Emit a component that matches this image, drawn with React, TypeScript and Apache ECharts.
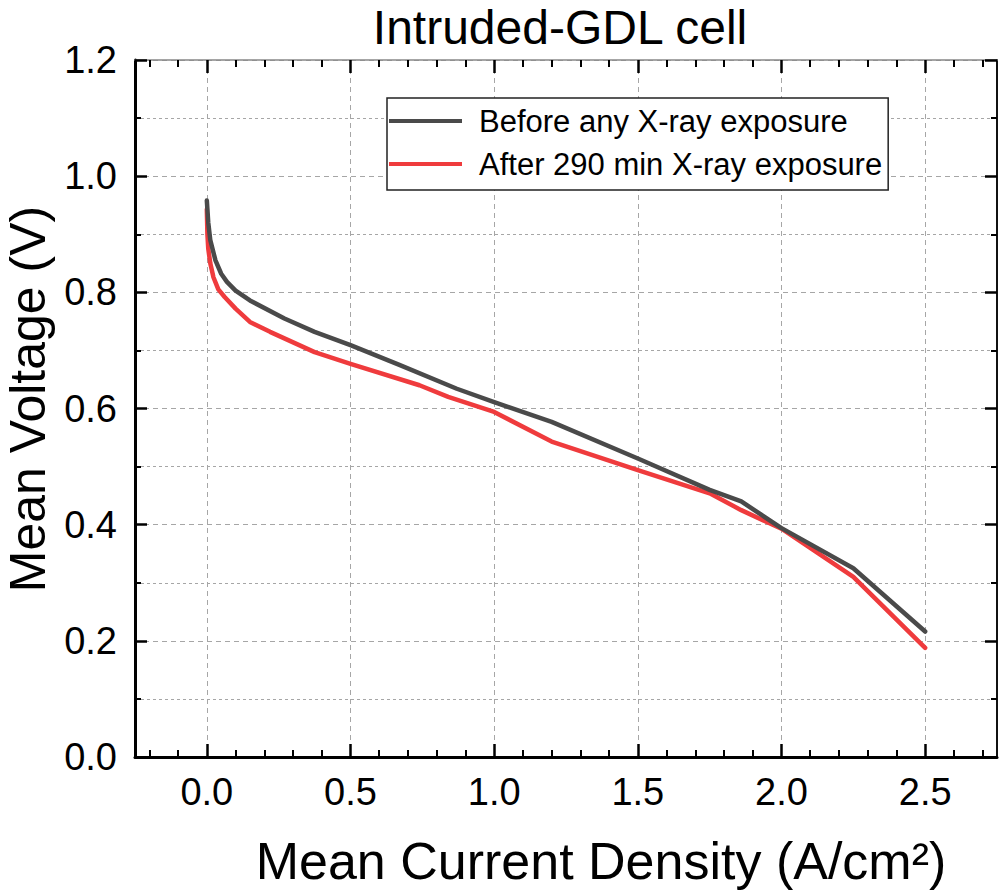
import React, { useEffect, useRef } from "react";
import * as echarts from "echarts";

const blackX = [0, 0.005, 0.012, 0.03, 0.05, 0.07, 0.1, 0.15, 0.27, 0.375, 0.5, 0.67, 0.87, 1.0, 1.2, 1.5, 1.75, 1.86, 2.0, 2.25, 2.5];
const blackV = [0.958, 0.92, 0.89, 0.855, 0.832, 0.818, 0.803, 0.786, 0.755, 0.732, 0.709, 0.675, 0.634, 0.611, 0.577, 0.514, 0.46, 0.44, 0.394, 0.325, 0.216];

const redX = [0, 0.002, 0.005, 0.012, 0.023, 0.04, 0.062, 0.1, 0.15, 0.22, 0.375, 0.5, 0.74, 0.84, 1.0, 1.2, 1.5, 1.75, 1.86, 2.0, 2.25, 2.5];
const redV = [0.943, 0.9, 0.875, 0.85, 0.826, 0.805, 0.792, 0.772, 0.749, 0.732, 0.697, 0.677, 0.64, 0.62, 0.594, 0.543, 0.494, 0.454, 0.425, 0.393, 0.31, 0.188];

const seriesNames = ["Before any X-ray exposure", "After 290 min X-ray exposure"];
const xMajorTicks = [0, 0.5, 1.0, 1.5, 2.0, 2.5];
const xMinorTicks = [-0.2, -0.1, 0.1, 0.2, 0.3, 0.4, 0.6, 0.7, 0.8, 0.9, 1.1, 1.2, 1.3, 1.4, 1.6, 1.7, 1.8, 1.9, 2.1, 2.2, 2.3, 2.4, 2.6, 2.7];
const titleText = "Intruded-GDL cell";
const xName = "Mean Current Density (A/cm²)";
const yName = "Mean Voltage (V)";

const FONT = "Liberation Sans, Arial, sans-serif";

export default function App() {
  const ref = useRef<HTMLDivElement>(null);
  useEffect(() => {
    document.body.style.margin = "0";
    const chart = echarts.init(ref.current!, null, { renderer: "svg" });
    const xBase = { type: "value", min: -0.25, max: 2.75, gridIndex: 0 };
    const majorTick = { show: true, inside: true, length: 13, lineStyle: { color: "#000", width: 2.5 } };
    const minorTick = { show: true, inside: true, length: 7, lineStyle: { color: "#000", width: 2 } };
    const grid = { color: "#a6a6a6", width: 1, type: [5, 4] };
    chart.setOption({
      animation: false,
      backgroundColor: "#fff",
      grid: { left: 135, right: 3, top: 60, bottom: 136, containLabel: false },
      legend: {
        left: 387,
        top: 98,
        orient: "vertical",
        backgroundColor: "#fff",
        borderColor: "#222",
        borderWidth: 1.5,
        borderRadius: 0,
        padding: [6, 6, 9, 2],
        itemGap: 9,
        itemWidth: 73,
        itemHeight: 4,
        icon: "rect",
        textStyle: { fontFamily: FONT, fontSize: 31, color: "#000", lineHeight: 34, padding: [0, 0, 0, 12] },
        data: seriesNames,
      },
      xAxis: [
        {
          ...xBase,
          position: "bottom",
          axisLine: { show: true, onZero: false, lineStyle: { color: "#000", width: 3 } },
          axisTick: { ...majorTick, customValues: xMajorTicks },
          axisLabel: {
            customValues: xMajorTicks,
            margin: 16,
            fontFamily: FONT,
            fontSize: 38,
            color: "#000",
            formatter: (v: number) => v.toFixed(1),
          },
          splitLine: { show: true, lineStyle: grid },
        },
        {
          ...xBase,
          position: "bottom",
          axisLine: { show: false, onZero: false },
          axisTick: { ...minorTick, customValues: xMinorTicks },
          axisLabel: { show: false },
          splitLine: { show: false },
        },
        {
          ...xBase,
          position: "top",
          axisLine: { show: true, onZero: false, lineStyle: { color: "#888", width: 1.5 } },
          axisTick: { ...majorTick, customValues: xMajorTicks },
          axisLabel: { show: false },
          splitLine: { show: false },
        },
        {
          ...xBase,
          position: "top",
          axisLine: { show: false, onZero: false },
          axisTick: { ...minorTick, customValues: xMinorTicks },
          axisLabel: { show: false },
          splitLine: { show: false },
        },
      ],
      yAxis: [
        {
          type: "value",
          min: 0,
          max: 1.2,
          interval: 0.2,
          position: "left",
          axisLine: { show: true, onZero: false, lineStyle: { color: "#000", width: 3 } },
          axisTick: { show: true, inside: true, length: 12, lineStyle: { color: "#000", width: 2.5 } },
          minorTick: { show: true, splitNumber: 2, length: 6, lineStyle: { color: "#000", width: 2 } },
          axisLabel: {
            margin: 18,
            fontFamily: FONT,
            fontSize: 38,
            color: "#000",
            formatter: (v: number) => v.toFixed(1),
          },
          splitLine: { show: true, lineStyle: grid },
          minorSplitLine: { show: true, lineStyle: { color: "#a6a6a6", width: 1, type: [3, 3] } },
        },
        {
          type: "value",
          min: 0,
          max: 1.2,
          interval: 0.2,
          position: "right",
          axisLine: { show: true, onZero: false, lineStyle: { color: "#111", width: 2 } },
          axisTick: { show: true, inside: true, length: 12, lineStyle: { color: "#000", width: 2.5 } },
          minorTick: { show: true, splitNumber: 2, length: 6, lineStyle: { color: "#000", width: 2 } },
          axisLabel: { show: false },
          splitLine: { show: false },
        },
      ],
      graphic: [
        {
          type: "text",
          x: 560,
          y: 27,
          style: { text: titleText, fontFamily: FONT, fontSize: 48, lineHeight: 40, fill: "#000", align: "center", verticalAlign: "middle" },
        },
        {
          type: "text",
          x: 601,
          y: 861,
          style: { text: xName, fontFamily: FONT, fontSize: 52, lineHeight: 44, fill: "#000", align: "center", verticalAlign: "middle" },
        },
        {
          type: "text",
          x: 28,
          y: 399,
          rotation: Math.PI / 2,
          style: { text: yName, fontFamily: FONT, fontSize: 50, lineHeight: 40, fill: "#000", align: "center", verticalAlign: "middle" },
        },
      ],
      series: [
        {
          name: seriesNames[0],
          type: "line",
          xAxisIndex: 0,
          yAxisIndex: 0,
          data: blackX.map((x, i) => [x, blackV[i]]),
          showSymbol: false,
          symbol: "none",
          color: "#4a4a4a",
          lineStyle: { width: 4.5, color: "#4a4a4a", cap: "round", join: "round" },
          z: 3,
        },
        {
          name: seriesNames[1],
          type: "line",
          xAxisIndex: 0,
          yAxisIndex: 0,
          data: redX.map((x, i) => [x, redV[i]]),
          showSymbol: false,
          symbol: "none",
          color: "#ef3b3d",
          lineStyle: { width: 4.5, color: "#ef3b3d", cap: "round", join: "round" },
          z: 2,
        },
      ],
    });
    return () => chart.dispose();
  }, []);
  return <div ref={ref} style={{ width: 1000, height: 893 }} />;
}
